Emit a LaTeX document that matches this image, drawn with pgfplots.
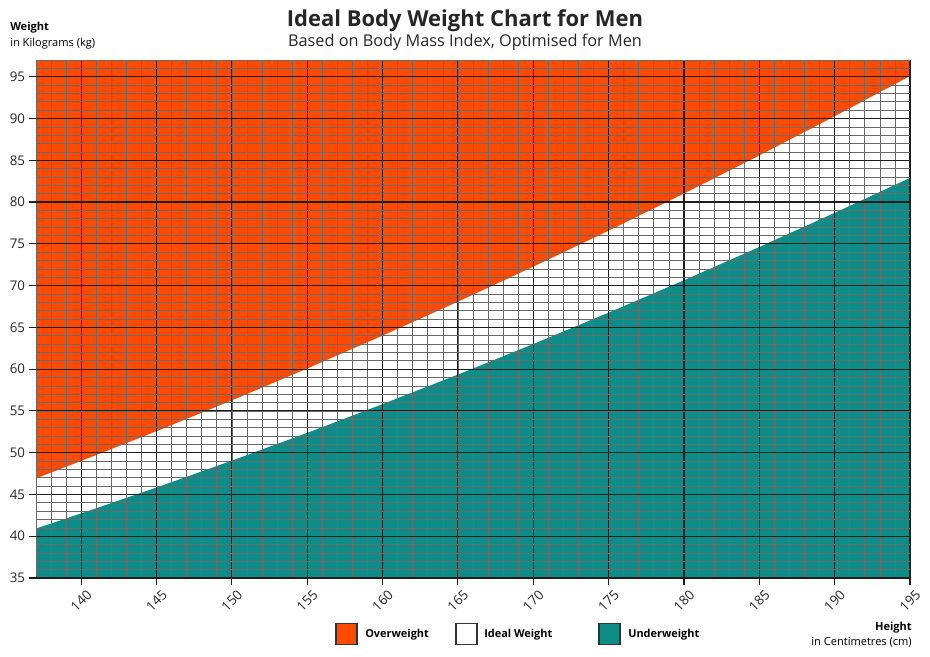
\documentclass[border=0pt]{standalone}
\usepackage{fontspec}
\setmainfont{Open Sans}
\usepackage{pgfplots}
\pgfplotsset{compat=1.18}

\definecolor{overw}{HTML}{FF4A00}
\definecolor{underw}{HTML}{0D8C88}
\definecolor{minorgrid}{HTML}{6A6A6A}
\definecolor{majorgrid}{HTML}{1E1E1E}

% BMI 25 upper limit and lower limit of ideal band
\pgfplotstableread{
h    w
137  46.92
140  49.00
145  52.56
150  56.25
155  60.06
160  64.00
165  68.06
170  72.25
175  76.56
180  81.00
185  85.56
190  90.25
195  95.06
}\upperline
\pgfplotstableread{
h    w
137  40.92
140  42.73
145  45.83
150  49.05
155  52.37
160  55.81
165  59.35
170  63.00
175  66.76
180  70.63
185  74.61
190  78.70
195  82.89
}\lowerline

\begin{document}
\begin{tikzpicture}
\useasboundingbox (-27pt,-58.5pt) rectangle (670.5pt,433.5pt);
\begin{axis}[
    at={(0,0)}, anchor=south west,
    scale only axis,
    width=655.5pt, height=388.5pt,
    xmin=137, xmax=195, ymin=35, ymax=97,
    xtick={140,145,...,195},
    ytick={35,40,...,95},
    minor xtick={137,...,195},
    minor ytick={35,...,97},
    grid=both,
    minor grid style={draw=minorgrid, line width=0.5pt},
    major grid style={draw=majorgrid, line width=0.8pt},
    axis on top,
    axis line style={draw=none},
    axis background/.style={fill=overw},
    tick align=outside,
    major tick length=5pt,
    minor tick length=0pt,
    tick style={draw=majorgrid, line width=0.8pt},
    xtick pos=bottom, ytick pos=left,
    tick label style={font=\fontsize{10}{12}\selectfont, text=black!85},
    xticklabel style={yshift=-12pt, rotate=45, anchor=center},
    yticklabel style={inner sep=3pt},
    /pgf/number format/assume math mode=true,
]
\addplot[draw=none, fill=white] table[x=h, y=w] {\upperline} \closedcycle;
\addplot[draw=none, fill=underw] table[x=h, y=w] {\lowerline} \closedcycle;
\end{axis}

% titles
\node[font=\bfseries\fontsize{16.5}{18}\selectfont, text=black!85] at (321.75pt,418pt) {Ideal Body Weight Chart for Men};
\node[font=\fontsize{12.2}{14}\selectfont, text=black!85] at (321.75pt,402pt) {Based on Body Mass Index, Optimised for Men};

% axis labels
\node[anchor=west, inner sep=0pt, font=\bfseries\fontsize{8.3}{10}\selectfont] at (-19.5pt,412.5pt) {Weight};
\node[anchor=west, inner sep=0pt, font=\fontsize{8.3}{10}\selectfont] at (-19.5pt,401pt) {in Kilograms (kg)};
\node[anchor=east, inner sep=0pt, font=\bfseries\fontsize{8.3}{10}\selectfont] at (657pt,-37.5pt) {Height};
\node[anchor=east, inner sep=0pt, font=\fontsize{8.3}{10}\selectfont] at (657pt,-48.5pt) {in Centimetres (cm)};

% legend
\begin{scope}[font=\bfseries\fontsize{8.2}{10}\selectfont]
\filldraw[fill=overw, draw=black!80, line width=0.8pt] (225pt,-50.2pt) rectangle (240.75pt,-34.4pt);
\node[anchor=west, inner sep=0pt] at (246.75pt,-42.3pt) {Overweight};
\filldraw[fill=white, draw=black!80, line width=0.8pt] (315pt,-50.2pt) rectangle (330.75pt,-34.4pt);
\node[anchor=west, inner sep=0pt] at (336pt,-42.3pt) {Ideal Weight};
\filldraw[fill=underw, draw=black!80, line width=0.8pt] (422.25pt,-50.2pt) rectangle (438pt,-34.4pt);
\node[anchor=west, inner sep=0pt] at (444pt,-42.3pt) {Underweight};
\end{scope}
\end{tikzpicture}
\end{document}
